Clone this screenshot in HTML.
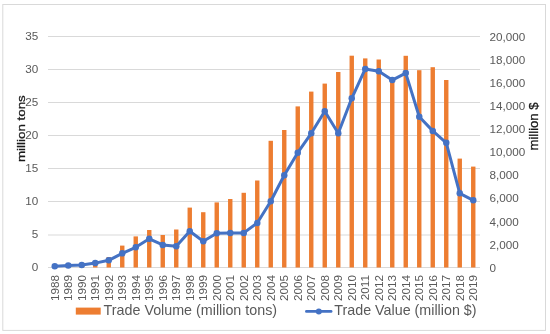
<!DOCTYPE html><html><head><meta charset="utf-8"><title>Trade chart</title>
<style>html,body{margin:0;padding:0;background:#fff}svg{display:block}text{font-family:"Liberation Sans",Arial,sans-serif}</style></head><body>
<svg width="550" height="334" viewBox="0 0 550 334">
<rect x="0" y="0" width="550" height="334" fill="#fff"/>
<rect x="2.8" y="4.5" width="542.7" height="325.9" fill="#fff" stroke="#d9d9d9" stroke-width="1"/>
<g stroke="#d9d9d9" stroke-width="1">
<line x1="48.0" x2="480.0" y1="267.50" y2="267.50"/>
<line x1="48.0" x2="480.0" y1="235.00" y2="235.00"/>
<line x1="48.0" x2="480.0" y1="201.50" y2="201.50"/>
<line x1="48.0" x2="480.0" y1="168.50" y2="168.50"/>
<line x1="48.0" x2="480.0" y1="135.50" y2="135.50"/>
<line x1="48.0" x2="480.0" y1="102.50" y2="102.50"/>
<line x1="48.0" x2="480.0" y1="69.50" y2="69.50"/>
<line x1="48.0" x2="480.0" y1="36.50" y2="36.50"/>
</g>
<g font-size="11.7" fill="#595959" text-anchor="end">
<text x="38.2" y="271.40">0</text>
<text x="38.2" y="238.40">5</text>
<text x="38.2" y="205.40">10</text>
<text x="38.2" y="172.40">15</text>
<text x="38.2" y="139.40">20</text>
<text x="38.2" y="106.40">25</text>
<text x="38.2" y="73.40">30</text>
<text x="38.2" y="40.40">35</text>
</g>
<g font-size="11.7" fill="#595959" text-anchor="start">
<text x="489.5" y="271.75">0</text>
<text x="489.5" y="248.65">2,000</text>
<text x="489.5" y="225.55">4,000</text>
<text x="489.5" y="202.45">6,000</text>
<text x="489.5" y="179.35">8,000</text>
<text x="489.5" y="156.25">10,000</text>
<text x="489.5" y="133.15">12,000</text>
<text x="489.5" y="110.05">14,000</text>
<text x="489.5" y="86.95">16,000</text>
<text x="489.5" y="63.85">18,000</text>
<text x="489.5" y="40.75">20,000</text>
</g>
<g fill="#ed7d31">
<rect x="52.55" y="266.50" width="4.4" height="1.00"/>
<rect x="66.05" y="266.00" width="4.4" height="1.50"/>
<rect x="79.55" y="265.50" width="4.4" height="2.00"/>
<rect x="93.05" y="264.00" width="4.4" height="3.50"/>
<rect x="106.55" y="257.00" width="4.4" height="10.50"/>
<rect x="120.05" y="245.60" width="4.4" height="21.90"/>
<rect x="133.55" y="236.40" width="4.4" height="31.10"/>
<rect x="147.05" y="230.00" width="4.4" height="37.50"/>
<rect x="160.55" y="235.00" width="4.4" height="32.50"/>
<rect x="174.05" y="229.50" width="4.4" height="38.00"/>
<rect x="187.55" y="207.60" width="4.4" height="59.90"/>
<rect x="201.05" y="212.20" width="4.4" height="55.30"/>
<rect x="214.55" y="202.40" width="4.4" height="65.10"/>
<rect x="228.05" y="199.00" width="4.4" height="68.50"/>
<rect x="241.55" y="192.80" width="4.4" height="74.70"/>
<rect x="255.05" y="180.50" width="4.4" height="87.00"/>
<rect x="268.55" y="140.80" width="4.4" height="126.70"/>
<rect x="282.05" y="130.00" width="4.4" height="137.50"/>
<rect x="295.55" y="106.40" width="4.4" height="161.10"/>
<rect x="309.05" y="91.60" width="4.4" height="175.90"/>
<rect x="322.55" y="83.60" width="4.4" height="183.90"/>
<rect x="336.05" y="72.00" width="4.4" height="195.50"/>
<rect x="349.55" y="55.70" width="4.4" height="211.80"/>
<rect x="363.05" y="58.40" width="4.4" height="209.10"/>
<rect x="376.55" y="59.50" width="4.4" height="208.00"/>
<rect x="390.05" y="78.00" width="4.4" height="189.50"/>
<rect x="403.55" y="55.80" width="4.4" height="211.70"/>
<rect x="417.05" y="70.20" width="4.4" height="197.30"/>
<rect x="430.55" y="67.20" width="4.4" height="200.30"/>
<rect x="444.05" y="80.00" width="4.4" height="187.50"/>
<rect x="457.55" y="158.60" width="4.4" height="108.90"/>
<rect x="471.05" y="166.60" width="4.4" height="100.90"/>
</g>
<polyline points="54.75,266.30 68.25,265.50 81.75,264.90 95.25,263.10 108.75,260.30 122.25,253.30 135.75,247.30 149.25,238.80 162.75,244.90 176.25,246.30 189.75,231.30 203.25,241.30 216.75,233.30 230.25,232.90 243.75,232.90 257.25,223.00 270.75,201.30 284.25,175.30 297.75,152.70 311.25,133.30 324.75,111.30 338.25,133.30 351.75,98.30 365.25,68.90 378.75,71.20 392.25,80.10 405.75,73.10 419.25,116.70 432.75,130.90 446.25,142.80 459.75,193.30 473.25,200.30" fill="none" stroke="#4472c4" stroke-width="3" stroke-linejoin="round" stroke-linecap="round"/>
<g fill="#4472c4">
<circle cx="54.75" cy="266.30" r="3.25"/>
<circle cx="68.25" cy="265.50" r="3.25"/>
<circle cx="81.75" cy="264.90" r="3.25"/>
<circle cx="95.25" cy="263.10" r="3.25"/>
<circle cx="108.75" cy="260.30" r="3.25"/>
<circle cx="122.25" cy="253.30" r="3.25"/>
<circle cx="135.75" cy="247.30" r="3.25"/>
<circle cx="149.25" cy="238.80" r="3.25"/>
<circle cx="162.75" cy="244.90" r="3.25"/>
<circle cx="176.25" cy="246.30" r="3.25"/>
<circle cx="189.75" cy="231.30" r="3.25"/>
<circle cx="203.25" cy="241.30" r="3.25"/>
<circle cx="216.75" cy="233.30" r="3.25"/>
<circle cx="230.25" cy="232.90" r="3.25"/>
<circle cx="243.75" cy="232.90" r="3.25"/>
<circle cx="257.25" cy="223.00" r="3.25"/>
<circle cx="270.75" cy="201.30" r="3.25"/>
<circle cx="284.25" cy="175.30" r="3.25"/>
<circle cx="297.75" cy="152.70" r="3.25"/>
<circle cx="311.25" cy="133.30" r="3.25"/>
<circle cx="324.75" cy="111.30" r="3.25"/>
<circle cx="338.25" cy="133.30" r="3.25"/>
<circle cx="351.75" cy="98.30" r="3.25"/>
<circle cx="365.25" cy="68.90" r="3.25"/>
<circle cx="378.75" cy="71.20" r="3.25"/>
<circle cx="392.25" cy="80.10" r="3.25"/>
<circle cx="405.75" cy="73.10" r="3.25"/>
<circle cx="419.25" cy="116.70" r="3.25"/>
<circle cx="432.75" cy="130.90" r="3.25"/>
<circle cx="446.25" cy="142.80" r="3.25"/>
<circle cx="459.75" cy="193.30" r="3.25"/>
<circle cx="473.25" cy="200.30" r="3.25"/>
</g>
<g font-size="11.7" fill="#595959" text-anchor="end">
<text transform="translate(58.95,275.0) rotate(-90)">1988</text>
<text transform="translate(72.45,275.0) rotate(-90)">1989</text>
<text transform="translate(85.95,275.0) rotate(-90)">1990</text>
<text transform="translate(99.45,275.0) rotate(-90)">1991</text>
<text transform="translate(112.95,275.0) rotate(-90)">1992</text>
<text transform="translate(126.45,275.0) rotate(-90)">1993</text>
<text transform="translate(139.95,275.0) rotate(-90)">1994</text>
<text transform="translate(153.45,275.0) rotate(-90)">1995</text>
<text transform="translate(166.95,275.0) rotate(-90)">1996</text>
<text transform="translate(180.45,275.0) rotate(-90)">1997</text>
<text transform="translate(193.95,275.0) rotate(-90)">1998</text>
<text transform="translate(207.45,275.0) rotate(-90)">1999</text>
<text transform="translate(220.95,275.0) rotate(-90)">2000</text>
<text transform="translate(234.45,275.0) rotate(-90)">2001</text>
<text transform="translate(247.95,275.0) rotate(-90)">2002</text>
<text transform="translate(261.45,275.0) rotate(-90)">2003</text>
<text transform="translate(274.95,275.0) rotate(-90)">2004</text>
<text transform="translate(288.45,275.0) rotate(-90)">2005</text>
<text transform="translate(301.95,275.0) rotate(-90)">2006</text>
<text transform="translate(315.45,275.0) rotate(-90)">2007</text>
<text transform="translate(328.95,275.0) rotate(-90)">2008</text>
<text transform="translate(342.45,275.0) rotate(-90)">2009</text>
<text transform="translate(355.95,275.0) rotate(-90)">2010</text>
<text transform="translate(369.45,275.0) rotate(-90)">2011</text>
<text transform="translate(382.95,275.0) rotate(-90)">2012</text>
<text transform="translate(396.45,275.0) rotate(-90)">2013</text>
<text transform="translate(409.95,275.0) rotate(-90)">2014</text>
<text transform="translate(423.45,275.0) rotate(-90)">2015</text>
<text transform="translate(436.95,275.0) rotate(-90)">2016</text>
<text transform="translate(450.45,275.0) rotate(-90)">2017</text>
<text transform="translate(463.95,275.0) rotate(-90)">2018</text>
<text transform="translate(477.45,275.0) rotate(-90)">2019</text>
</g>
<text transform="translate(25.2,162) rotate(-90) scale(1.172,1)" font-size="11.4" fill="#1a1a1a" stroke="#1a1a1a" stroke-width="0.3">million tons</text>
<text transform="translate(537.6,150.5) rotate(-90)" font-size="13.1" fill="#1a1a1a" stroke="#1a1a1a" stroke-width="0.3">million $</text>
<rect x="75.8" y="307.6" width="24.9" height="7" fill="#ed7d31"/>
<text x="103.6" y="315.05" font-size="14.3" fill="#595959">Trade Volume (million tons)</text>
<line x1="306.4" x2="331.1" y1="311.4" y2="311.4" stroke="#4472c4" stroke-width="2.7" stroke-linecap="round"/>
<circle cx="318.8" cy="311.4" r="3" fill="#4472c4"/>
<text x="334.3" y="315.05" font-size="14.3" fill="#595959">Trade Value (million $)</text>
</svg></body></html>
